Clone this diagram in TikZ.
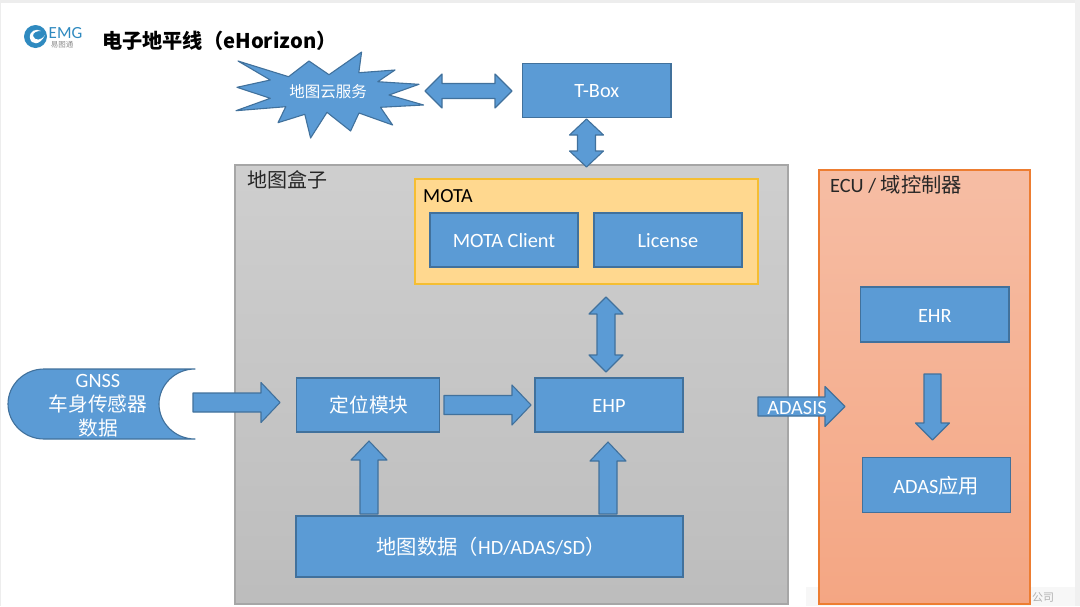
\documentclass[tikz,border=0pt]{standalone}
\usepackage{fontspec}
\setmainfont{Carlito}
\newfontfamily\cjk{Noto Sans CJK SC}
\usetikzlibrary{calc}
\definecolor{bluefill}{HTML}{5B9BD5}
\definecolor{blueline}{HTML}{41719C}
\definecolor{logoblue}{HTML}{2F8AC0}
\newcommand{\zh}[1]{{\cjk\fontsize{19.7}{24}\selectfont #1}}
\tikzset{
  x=1pt,y=-1pt,
  lbl/.style={font=\fontsize{20.3}{24}\selectfont,text=white,inner sep=0pt,align=center},
  latin/.style={lbl,yshift=-1pt},
  lbldark/.style={font=\fontsize{20.3}{24}\selectfont,text=black!85,inner sep=0pt,align=left},
  bluebox/.style={draw=blueline,fill=bluefill,line width=1.3pt,minimum width=#1,inner sep=0pt},
  blockshape/.style={draw=blueline,fill=bluefill,line width=1.1pt,line join=round},
}
% single block arrow between two named coordinates: from, to, shaft half, head half, head length
\newcommand{\sblock}[5]{%
  \coordinate (h) at ($(#2)!#5pt!(#1)$);
  \draw[blockshape] ($(#1)!#3pt!90:(#2)$) -- ($(h)!#3pt!90:(#2)$) -- ($(h)!#4pt!90:(#2)$) -- (#2) -- ($(h)!#4pt!-90:(#2)$) -- ($(h)!#3pt!-90:(#2)$) -- ($(#1)!#3pt!-90:(#2)$) -- cycle;}
% double block arrow
\newcommand{\dblock}[5]{%
  \coordinate (h) at ($(#2)!#5pt!(#1)$);
  \coordinate (g) at ($(#1)!#5pt!(#2)$);
  \draw[blockshape] (#1) -- ($(g)!#4pt!90:(#2)$) -- ($(g)!#3pt!90:(#2)$) -- ($(h)!#3pt!90:(#2)$) -- ($(h)!#4pt!90:(#2)$) -- (#2) -- ($(h)!#4pt!-90:(#2)$) -- ($(h)!#3pt!-90:(#2)$) -- ($(g)!#3pt!-90:(#2)$) -- ($(g)!#4pt!-90:(#2)$) -- cycle;}
\begin{document}
\begin{tikzpicture}
\useasboundingbox (0,0) rectangle (1080,606);
% page background
\fill[white] (0,0) rectangle (1080,606);
\fill[black!7] (0,0) rectangle (1080,3);
\fill[black!7] (0,0) rectangle (1.2,606);
\fill[black!6] (1074.5,0) rectangle (1080,606);
\fill[black!3] (806,587) rectangle (1074.5,606);
\node[inner sep=0pt,text=black!30,font=\fontsize{11}{12}\selectfont\cjk] (wm) at (1043,597) {公司};
% logo
\fill[logoblue] (35.5,36.5) circle (11.5);
\fill[white] (30,38) .. controls (31,45) and (40,46) .. (45,35) .. controls (41,41) and (35,41) .. (33,36) .. controls (33,32) and (37,31) .. (41,31) .. controls (36,28) and (29,31) .. (30,38) -- cycle;
\node[inner sep=0pt,text=logoblue,font=\fontsize{17}{17}\selectfont] (emg) at (65.5,33.5) {EMG};
\node[inner sep=0pt,text=black!45,font=\fontsize{7.5}{8}\selectfont\cjk] (emgzh) at (62,45) {易图通};
% title
\node[inner sep=0pt,anchor=west,font=\fontsize{20.2}{24}\selectfont\cjk\bfseries] (title) at (102,40.5) {电子地平线（eHorizon）};
% containers
\node[draw=black!35,top color=black!19,middle color=black!21,bottom color=black!26,line width=1.4pt,minimum width=553pt,minimum height=439pt,inner sep=0pt] (box) at (511.5,384.5) {};
\definecolor{ecutop}{HTML}{F6BDA4}
\definecolor{ecubot}{HTML}{F4A683}
\definecolor{eculine}{HTML}{ED7D31}
\definecolor{motafill}{HTML}{FFD88F}
\definecolor{motaline}{HTML}{F5BE32}
\node[draw=eculine,top color=ecutop,bottom color=ecubot,line width=1.5pt,minimum width=211pt,minimum height=434pt,inner sep=0pt] (ecu) at (924.5,387) {};
\node[draw=motaline,fill=motafill,line width=1.6pt,minimum width=343pt,minimum height=105pt,inner sep=0pt] (mota) at (586.5,231.5) {};
\node[lbldark,anchor=west,font=\fontsize{20}{23}\selectfont\cjk] (boxl) at (247,180) {地图盒子};
\node[lbldark,anchor=west] (ecul) at (830,185) {ECU / {\cjk 域控制器}};
\node[lbldark,anchor=west,text=black,font=\fontsize{20}{23}\selectfont] (motal) at (423,196) {MOTA};
% star
\path[blockshape] (238,61) -- (288.6,76.7) -- (309,61) -- (329,74.7) -- (361.6,52) -- (358.8,72.7) -- (395,70) -- (377.8,81.7) -- (419,84.3) -- (389,95) -- (423.6,105) -- (380.5,107.3) -- (392.6,125) -- (359,113) -- (350.6,131) -- (327,112.3) -- (310.6,138) -- (304.8,114.3) -- (278,122.7) -- (285.8,106.7) -- (236,110.7) -- (270.3,98.3) -- (237,87.3) -- (270.3,80) -- cycle;
\node[lbl,font=\fontsize{15.5}{18}\selectfont\cjk] (cloud) at (328,92) {地图云服务};
% stored-data shape
\path[blockshape] (195,369) -- (44,369) .. controls (24,369) and (8,385) .. (8,404) .. controls (8,423) and (24,439) .. (44,439) -- (195,439) .. controls (175,439) and (159,423) .. (159,404) .. controls (159,385) and (175,369) .. (195,369) -- cycle;
\node[lbl] (gnss) at (98,405.5) {GNSS\\\zh{车身传感器}\\\zh{数据}};
% boxes
\node[bluebox=148.5pt,minimum height=54.5pt] (tbox) at (596.8,90.5) {};
\node[latin] at (tbox) {T-Box};
\node[bluebox=148pt,minimum height=54pt] (client) at (504,240) {};
\node[latin] at (client) {MOTA Client};
\node[bluebox=148pt,minimum height=54pt] (license) at (668,240) {};
\node[latin] at (license) {License};
\node[bluebox=143pt,minimum height=54pt] (locate) at (367.7,405) {};
\node[lbl,xshift=1.5pt] at (locate) {\zh{定位模块}};
\node[bluebox=148pt,minimum height=54pt] (ehp) at (609,405) {};
\node[latin] at (ehp) {EHP};
\node[bluebox=387pt,minimum height=61pt] (mapdata) at (489.5,546.5) {};
\node[lbl,xshift=1.5pt] at (mapdata) {{\cjk 地图数据（}HD/ADAS/SD{\cjk ）}};
\node[bluebox=148.5pt,minimum height=55pt] (ehr) at (934.8,314.5) {};
\node[latin] at (ehr) {EHR};
\node[bluebox=148pt,minimum height=55pt] (adas) at (936.2,485) {};
\node[latin] at (adas) {ADAS{\cjk 应用}};
% block arrows
\coordinate (a1s) at (425,91); \coordinate (a1e) at (512,91);
\dblock{a1s}{a1e}{7.5}{17}{17}
\coordinate (a2s) at (586.5,167); \coordinate (a2e) at (586.5,119);
\dblock{a2s}{a2e}{9}{17}{16}
\coordinate (a3s) at (606,372); \coordinate (a3e) at (606,297);
\dblock{a3s}{a3e}{9}{17}{17}
\coordinate (a4s) at (193,402.5); \coordinate (a4e) at (280,402.5);
\sblock{a4s}{a4e}{9.5}{20}{19}
\coordinate (a5s) at (444,405); \coordinate (a5e) at (531,405);
\sblock{a5s}{a5e}{9.5}{20}{19}
\coordinate (a6s) at (369,514); \coordinate (a6e) at (369,441);
\sblock{a6s}{a6e}{9}{18}{19}
\coordinate (a7s) at (608,514); \coordinate (a7e) at (608,442);
\sblock{a7s}{a7e}{9}{18}{19}
\coordinate (a8s) at (758,406.5); \coordinate (a8e) at (845,406.5);
\sblock{a8s}{a8e}{9.5}{20}{20}
\node[latin] (adasis) at (797,407) {ADASIS};
\coordinate (a9s) at (932.5,374); \coordinate (a9e) at (932.5,440);
\sblock{a9s}{a9e}{8.5}{17}{17}
\end{tikzpicture}
\end{document}
